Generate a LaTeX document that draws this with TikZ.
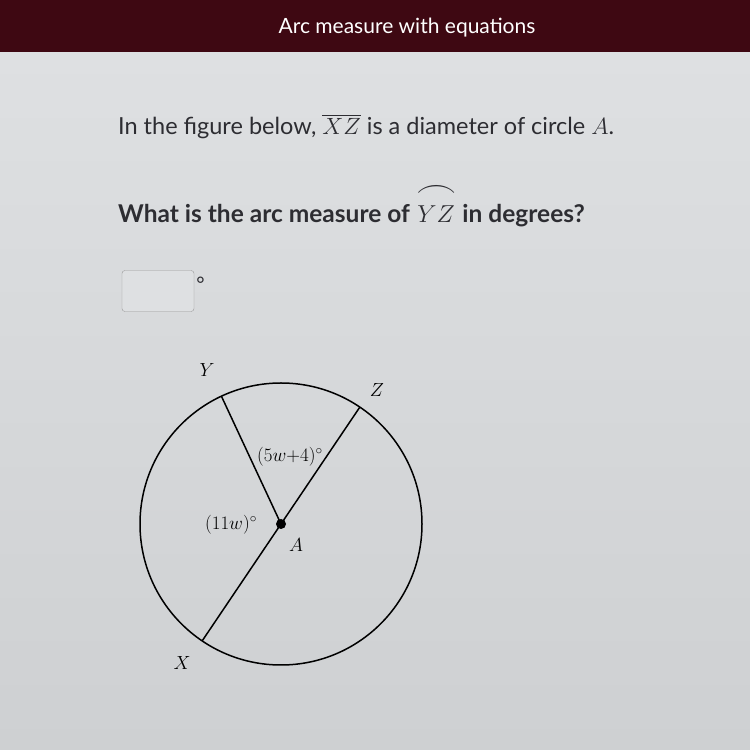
\RequirePackage{fix-cm}
\documentclass[tikz,border=0pt]{standalone}
\usepackage{amsmath,amssymb}
\usepackage{fontspec}
\newfontfamily\lato{Lato}
\usetikzlibrary{calc,positioning}
\definecolor{screen}{RGB}{206,208,210}
\definecolor{screenhi}{RGB}{222,224,226}
\definecolor{header}{RGB}{62,8,18}
\definecolor{ink}{RGB}{45,45,50}
\newcommand{\arcover}[1]{\overset{\raisebox{4pt}{\scalebox{1.7}[1.3]{$\frown$}}}{#1}}

\begin{document}
\begin{tikzpicture}[x=1pt,y=1pt]
		\useasboundingbox (0,0) rectangle (750,750);
		\shade[top color=screenhi,bottom color=screen] (0,0) rectangle (750,698);
		\fill[header] (0,698) rectangle (750,750);
		\node[text=white,font=\lato\fontsize{21}{24}\selectfont] (title) at (407,722) {Arc measure with equations};
		
		\node[anchor=base west,inner sep=0,text=ink,font=\lato\fontsize{23.5}{28}\selectfont] (given) at (118,615) {In the figure below, $\overline{XZ}$ is a diameter of circle $A$.};
		\node[anchor=base west,inner sep=0,text=ink,font=\lato\bfseries\fontsize{24.5}{28}\selectfont] (ask) at (118,527) {What is the arc measure of $\arcover{YZ}$ in degrees?};
		\node[draw=gray!80,fill=screenhi,rounded corners=3pt,minimum width=72,minimum height=41] (answer) at (158,459) {};
		\node[anchor=north west,inner sep=0,text=ink,font=\lato\fontsize{20}{20}\selectfont] (deg) at ($(answer.north east)+(2,-7)$) {°};
		
		% circle A
		\coordinate (A) at (281,226);
		\draw[line width=1.5pt] (A) circle (141pt);
		\foreach \p/\ang in {Y/115,Z/56,X/236}
		\coordinate (\p) at ($(A)+(\ang:141)$);
		\draw[line width=1.5pt] (A) -- (Y);
		\draw[line width=1.5pt] (X) -- (Z);
		\fill (A) circle (5pt);
		
		\foreach \p/\x/\y in {Y/207/380,Z/377/360,X/182/87}
		\node[font=\fontsize{19}{19}\selectfont] (lab\p) at (\x,\y) {$\p$};
		\node[font=\fontsize{19}{19}\selectfont] (labA) at (296,205) {$A$};
		\node[font=\fontsize{19}{19}\selectfont] (angYZ) at (290,293) {$(5w{+}4)^\circ$};
		\node[font=\fontsize{19}{19}\selectfont] (angXY) at (231,225) {$(11w)^\circ$};
	\end{tikzpicture}
\end{document}
